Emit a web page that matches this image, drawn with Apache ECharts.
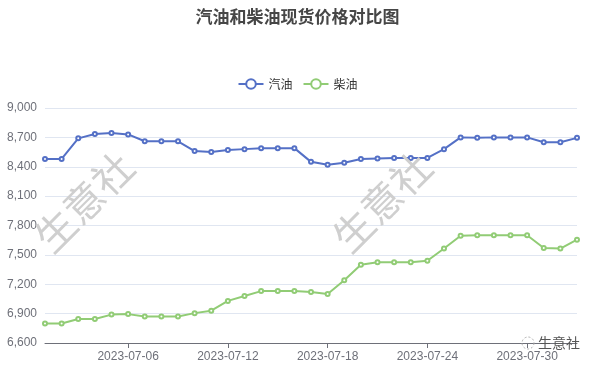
<!DOCTYPE html>
<html><head><meta charset="utf-8">
<script src="https://cdn.jsdelivr.net/npm/echarts@6/dist/echarts.min.js"></script>
<style>html,body{margin:0;padding:0;background:#fff}#c{width:595px;height:369px}</style>
</head><body><div id="c"></div>
<script>
const dates = ["2023-07-01","2023-07-02","2023-07-03","2023-07-04","2023-07-05","2023-07-06","2023-07-07","2023-07-08","2023-07-09","2023-07-10","2023-07-11","2023-07-12","2023-07-13","2023-07-14","2023-07-15","2023-07-16","2023-07-17","2023-07-18","2023-07-19","2023-07-20","2023-07-21","2023-07-22","2023-07-23","2023-07-24","2023-07-25","2023-07-26","2023-07-27","2023-07-28","2023-07-29","2023-07-30","2023-07-31","2023-08-01","2023-08-02"];
const gasoline = [8480,8480,8690,8735,8745,8730,8660,8660,8660,8560,8550,8570,8580,8590,8590,8590,8450,8420,8440,8480,8485,8490,8490,8490,8580,8700,8695,8700,8700,8700,8650,8650,8695];
const diesel = [6800,6800,6845,6845,6890,6895,6870,6870,6870,6905,6930,7030,7080,7130,7130,7130,7120,7100,7240,7400,7425,7425,7425,7440,7565,7695,7700,7700,7700,7700,7570,7565,7655];
const seriesNames = ["汽油","柴油"];
const titleText = "汽油和柴油现货价格对比图";
const watermark = "生意社";

const chart = echarts.init(document.getElementById('c'));
const showIdx = (i) => i >= 5 && (i - 5) % 6 === 0;
const wmStyle = { text: watermark, fontSize: 40, fill: '#cfcfcf', fontFamily: 'Noto Sans CJK SC', fontWeight: 'normal', align: 'center', verticalAlign: 'middle' };
chart.setOption({
  animation: false,
  title: { text: titleText, left: 'center', top: 3, textStyle: { fontSize: 17, fontWeight: 'bold', color: '#464646', fontFamily: 'Noto Sans CJK SC' } },
  legend: { top: 73, left: 'center', itemWidth: 25, itemHeight: 12, itemGap: 10, textStyle: { fontSize: 12, color: '#333', fontFamily: 'Noto Sans CJK SC' }, data: seriesNames },
  grid: { left: 45, right: 18, top: 108, bottom: 26 },
  xAxis: {
    type: 'category', data: dates, boundaryGap: false,
    axisLine: { lineStyle: { color: '#6e7079' } },
    axisTick: { interval: (i) => showIdx(i), alignWithLabel: true },
    axisLabel: { interval: (i) => showIdx(i), color: '#6e7079', fontSize: 12, margin: 8 }
  },
  yAxis: {
    type: 'value', min: 6600, max: 9000, interval: 300,
    axisLabel: { color: '#6e7079', fontSize: 12, margin: 8 },
    splitLine: { lineStyle: { color: '#e0e6f1' } }
  },
  graphic: [
    { type: 'text', z: 100, rotation: Math.PI/4, style: wmStyle, x: 84, y: 202 },
    { type: 'text', z: 100, rotation: Math.PI/4, style: wmStyle, x: 382, y: 202 },
    { type: 'circle', z: 100, shape: { cx: 528, cy: 343, r: 6 }, style: { fill: 'none', stroke: '#aaa', lineWidth: 1, lineDash: [2,2] } },
    { type: 'text', z: 100, style: { text: watermark, fontSize: 14, fill: '#555', fontFamily: 'Noto Sans CJK SC', align: 'left', verticalAlign: 'middle' }, x: 538, y: 343 }
  ],
  series: [
    { name: seriesNames[0], type: 'line', data: gasoline, symbol: 'emptyCircle', symbolSize: 4, lineStyle: { width: 2 }, itemStyle: { color: '#5470c6' } },
    { name: seriesNames[1], type: 'line', data: diesel, symbol: 'emptyCircle', symbolSize: 4, lineStyle: { width: 2 }, itemStyle: { color: '#91cc75' } }
  ]
});
</script></body></html>
